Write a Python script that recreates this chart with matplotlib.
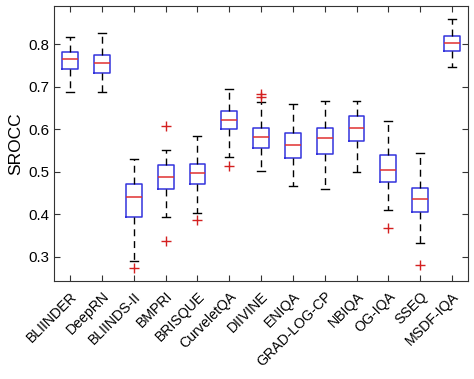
import matplotlib
matplotlib.use("Agg")
import matplotlib.pyplot as plt

methods = ["BLIINDER", "DeepRN", "BLIINDS-II", "BMPRI", "BRISQUE", "CurveletQA",
           "DIIVINE", "ENIQA", "GRAD-LOG-CP", "NBIQA", "OG-IQA", "SSEQ", "MSDF-IQA"]
whisker_lo = [0.688, 0.688, 0.291, 0.393, 0.404, 0.535, 0.502, 0.466, 0.459, 0.500, 0.409, 0.333, 0.746]
q1 = [0.742, 0.733, 0.393, 0.459, 0.471, 0.600, 0.556, 0.532, 0.541, 0.573, 0.475, 0.406, 0.784]
median = [0.765, 0.755, 0.441, 0.487, 0.497, 0.621, 0.581, 0.564, 0.580, 0.604, 0.504, 0.435, 0.804]
q3 = [0.783, 0.775, 0.471, 0.515, 0.519, 0.643, 0.603, 0.592, 0.603, 0.631, 0.540, 0.463, 0.820]
whisker_hi = [0.818, 0.826, 0.530, 0.551, 0.584, 0.695, 0.665, 0.659, 0.667, 0.667, 0.619, 0.544, 0.860]
outliers = [[], [], [0.273], [0.607, 0.336], [0.387], [0.514],
            [0.682, 0.677], [], [], [], [0.367], [0.281], []]

stats = []
for i, name in enumerate(methods):
    stats.append(dict(label=name, whislo=whisker_lo[i], q1=q1[i], med=median[i],
                      q3=q3[i], whishi=whisker_hi[i], fliers=outliers[i]))

plt.rcParams["font.family"] = ["Liberation Sans", "DejaVu Sans"]
fig = plt.figure(figsize=(4.74, 3.79), dpi=100)
ax = fig.add_axes([0.1146, 0.2586, 0.8724, 0.7254])

ax.bxp(stats, widths=0.5,
       boxprops=dict(color="#3333dd", lw=1.1),
       medianprops=dict(color="#e03030", lw=1.1),
       whiskerprops=dict(color="black", lw=1.0, linestyle=(0, (5, 3.5))),
       capprops=dict(color="black", lw=1.0),
       flierprops=dict(marker="+", markeredgecolor="#d42020", markersize=7, markeredgewidth=1.0))

ax.set_xlim(0.5, 13.5)
ax.set_ylim(0.243, 0.89)
ax.set_yticks([0.3, 0.4, 0.5, 0.6, 0.7, 0.8])
ax.set_xticks(range(1, len(methods) + 1))
ax.set_xticklabels(methods, rotation=45, ha="right", rotation_mode="anchor", fontsize=10.2)
ax.tick_params(axis="x", pad=6)
ax.tick_params(axis="y", labelsize=10.8)
ax.tick_params(direction="in", top=True, right=True, length=4, color="#333333")
ax.set_ylabel("SROCC", fontsize=12.5)
for s in ax.spines.values():
    s.set_color("#333333")

plt.savefig("out.png", dpi=100)
